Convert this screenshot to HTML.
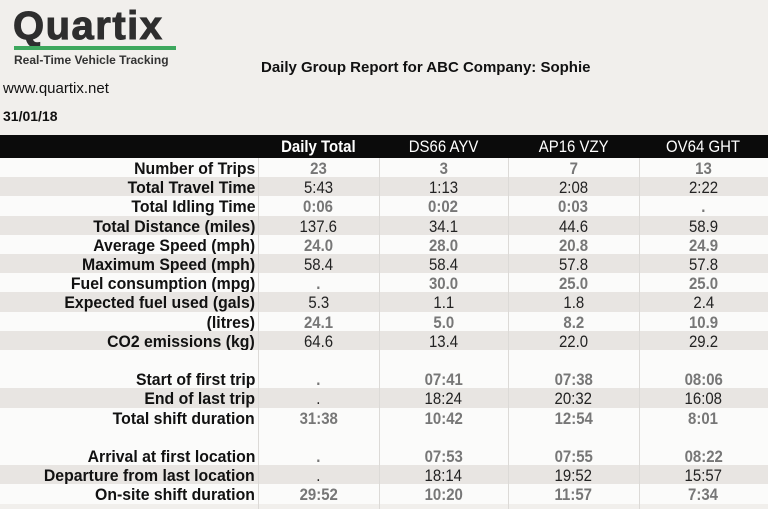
<!DOCTYPE html>
<html><head><meta charset="utf-8"><style>
body{margin:0;width:768px;height:509px;background:#f1efec;font-family:"Liberation Sans",Arial,sans-serif;position:relative;overflow:hidden}
.a{position:absolute;white-space:nowrap}
.row{position:absolute;left:0;width:768px;height:19.2px}
.g{background:#e8e5e2}
.w{background:#fbfbfa}
.c{position:absolute;top:0;height:19.2px;line-height:21px;font-size:17px;text-align:center}
.c span{display:inline-block;transform:scaleX(.88)}
.lab{right:513px;text-align:right;font-weight:bold;color:#111}
.lab span{transform-origin:right center;transform:scaleX(.93)}
.v1{left:258px;width:121px}.v2{left:379px;width:129px}.v3{left:508px;width:131px}.v4{left:639px;width:129px}
.gr{color:#777;font-weight:bold}.dk{color:#222}
.div{position:absolute;top:158px;height:351px;width:1px;background:#dcdad7}
</style></head><body>
<div class="a" style="left:13px;top:4px;font-size:40px;font-weight:900;color:#2e2e2e;letter-spacing:1.5px;transform-origin:left top;-webkit-text-stroke:1px #2e2e2e">Quartix</div>
<div class="a" style="left:14px;top:46px;width:162px;height:4px;background:#3ea85e"></div>
<div class="a" style="left:14px;top:53px;font-size:12px;font-weight:bold;color:#333;transform:scaleX(1.0);transform-origin:left top">Real-Time Vehicle Tracking</div>
<div class="a" style="left:261px;top:59px;font-size:15px;font-weight:bold;color:#111">Daily Group Report for ABC Company: Sophie</div>
<div class="a" style="left:3px;top:80px;font-size:15px;color:#111">www.quartix.net</div>
<div class="a" style="left:3px;top:108px;font-size:14px;font-weight:bold;color:#111">31/01/18</div>
<div class="a" style="left:0;top:135px;width:768px;height:23px;background:#0b0b0b"></div>
<div class="a" style="top:135px;height:23px;line-height:23px;left:0;width:768px;color:#fff">
<div class="c v1" style="height:23px;line-height:23px;font-size:17px;font-weight:bold"><span>Daily Total</span></div>
<div class="c v2" style="height:23px;line-height:23px;font-size:17px"><span>DS66 AYV</span></div>
<div class="c v3" style="height:23px;line-height:23px;font-size:17px"><span>AP16 VZY</span></div>
<div class="c v4" style="height:23px;line-height:23px;font-size:17px"><span>OV64 GHT</span></div>
</div>
<div id="rows"></div>
<div class="div" style="left:258px"></div><div class="div" style="left:379px"></div><div class="div" style="left:508px"></div><div class="div" style="left:639px"></div>
<script>
var R=[
["Number of Trips","23","3","7","13",0],
["Total Travel Time","5:43","1:13","2:08","2:22",1],
["Total Idling Time","0:06","0:02","0:03",".",0],
["Total Distance (miles)","137.6","34.1","44.6","58.9",1],
["Average Speed (mph)","24.0","28.0","20.8","24.9",0],
["Maximum Speed (mph)","58.4","58.4","57.8","57.8",1],
["Fuel consumption (mpg)",".","30.0","25.0","25.0",0],
["Expected fuel used (gals)","5.3","1.1","1.8","2.4",1],
["(litres)","24.1","5.0","8.2","10.9",0],
["CO2 emissions (kg)","64.6","13.4","22.0","29.2",1],
["","","","","",2],
["Start of first trip",".","07:41","07:38","08:06",0],
["End of last trip",".","18:24","20:32","16:08",1],
["Total shift duration","31:38","10:42","12:54","8:01",0],
["","","","","",2],
["Arrival at first location",".","07:53","07:55","08:22",0],
["Departure from last location",".","18:14","19:52","15:57",1],
["On-site shift duration","29:52","10:20","11:57","7:34",0]];
var h="";
R.forEach(function(r,i){var t=158+i*19.2;var bg=r[5]==1?"g":"w";var cl=r[5]==1?"dk":"gr";
h+='<div class="row '+bg+'" style="top:'+t+'px">';
h+='<div class="c lab"><span>'+r[0]+'</span></div>';
for(var k=1;k<5;k++)h+='<div class="c v'+k+' '+cl+'"><span>'+r[k]+'</span></div>';
h+='</div>';});
document.getElementById("rows").innerHTML=h;
</script>
</body></html>
